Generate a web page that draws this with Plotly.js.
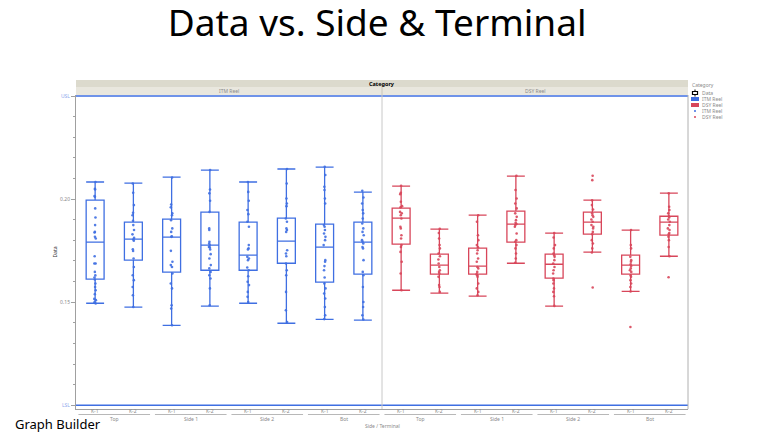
<!DOCTYPE html>
<html><head><meta charset="utf-8">
<script src="https://cdn.plot.ly/plotly-3.0.1.min.js"></script>
<style>html,body{margin:0;padding:0;background:#fff}#chart{width:768px;height:433px}</style>
</head><body><div id="chart"></div>
<script>
// ---------- data ----------
const sides = ['Top','Top','Side 1','Side 1','Side 2','Side 2','Bot','Bot'];
const terminals = ['K-1','K-2','K-1','K-2','K-1','K-2','K-1','K-2'];
const sideGroups = ['Top','Side 1','Side 2','Bot'];
const categories = ['ITM Reel','DSY Reel'];

const itmUpper  = [0.2083,0.2078,0.2107,0.2141,0.2083,0.2146,0.2155,0.2034];
const itmQ3     = [0.1995,0.1888,0.1903,0.1937,0.1888,0.1908,0.1879,0.1888];
const itmMedian = [0.1791,0.1806,0.1816,0.1777,0.1728,0.1796,0.1767,0.1791];
const itmQ1     = [0.1612,0.1704,0.1646,0.1655,0.1655,0.1689,0.1597,0.1636];
const itmLower  = [0.1495,0.1476,0.1388,0.1481,0.1495,0.1398,0.1417,0.1413];

const dsyUpper  = [0.2063,0.1854,0.1922,0.2112,0.1835,0.1995,0.1850,0.2029];
const dsyQ3     = [0.1956,0.1733,0.1762,0.1942,0.1733,0.1937,0.1728,0.1917];
const dsyMedian = [0.1908,0.1680,0.1675,0.1879,0.1684,0.1888,0.1680,0.1888];
const dsyQ1     = [0.1782,0.1636,0.1636,0.1791,0.1617,0.1830,0.1636,0.1825];
const dsyLower  = [0.1558,0.1544,0.1529,0.1689,0.1481,0.1743,0.1553,0.1723];

const itmPoints = [
  [0.2083,0.2050,0.2047,0.2015,0.2011,0.1955,0.1911,0.1874,0.1841,0.1838,0.1817,0.1809,0.1723,0.1688,0.1688,0.1647,0.1630,0.1620,0.1610,0.1591,0.1574,0.1558,0.1539,0.1516,0.1510,0.1500,0.1494],
  [0.2076,0.2031,0.1971,0.1934,0.1922,0.1895,0.1874,0.1850,0.1829,0.1812,0.1804,0.1798,0.1757,0.1748,0.1712,0.1671,0.1631,0.1607,0.1574,0.1534,0.1477],
  [0.2105,0.1974,0.1960,0.1931,0.1922,0.1898,0.1858,0.1841,0.1820,0.1817,0.1749,0.1696,0.1680,0.1671,0.1639,0.1591,0.1567,0.1485,0.1469,0.1388],
  [0.2141,0.2047,0.2028,0.1992,0.1938,0.1858,0.1850,0.1793,0.1785,0.1777,0.1768,0.1766,0.1756,0.1733,0.1712,0.1680,0.1664,0.1647,0.1631,0.1615,0.1567,0.1485],
  [0.2083,0.2035,0.1992,0.1947,0.1927,0.1890,0.1866,0.1777,0.1761,0.1756,0.1720,0.1712,0.1704,0.1668,0.1655,0.1626,0.1599,0.1583,0.1550,0.1526,0.1501],
  [0.2146,0.2076,0.2003,0.1979,0.1966,0.1906,0.1890,0.1858,0.1850,0.1841,0.1752,0.1736,0.1723,0.1688,0.1655,0.1631,0.1550,0.1461,0.1404],
  [0.2157,0.2117,0.2060,0.2044,0.2003,0.1979,0.1874,0.1866,0.1850,0.1833,0.1817,0.1801,0.1777,0.1704,0.1696,0.1675,0.1655,0.1620,0.1591,0.1567,0.1542,0.1518,0.1477,0.1437,0.1418],
  [0.2040,0.2008,0.1979,0.1947,0.1931,0.1906,0.1882,0.1858,0.1841,0.1825,0.1801,0.1793,0.1785,0.1768,0.1761,0.1704,0.1647,0.1631,0.1574,0.1501,0.1477,0.1437,0.1416]
];
const dsyPoints = [
  [0.2065,0.2031,0.2024,0.1987,0.1966,0.1960,0.1938,0.1931,0.1922,0.1906,0.1866,0.1858,0.1825,0.1809,0.1777,0.1768,0.1744,0.1696,0.1639,0.1558],
  [0.1856,0.1836,0.1809,0.1777,0.1761,0.1736,0.1723,0.1707,0.1688,0.1671,0.1655,0.1647,0.1639,0.1623,0.1583,0.1574,0.1550],
  [0.1922,0.1890,0.1825,0.1801,0.1777,0.1766,0.1752,0.1736,0.1712,0.1696,0.1671,0.1664,0.1647,0.1636,0.1631,0.1623,0.1591,0.1567,0.1550,0.1534],
  [0.2113,0.2044,0.2003,0.1979,0.1955,0.1931,0.1914,0.1898,0.1885,0.1879,0.1874,0.1866,0.1833,0.1801,0.1793,0.1777,0.1761,0.1736,0.1712,0.1691],
  [0.1836,0.1814,0.1777,0.1761,0.1736,0.1728,0.1720,0.1704,0.1688,0.1671,0.1655,0.1639,0.1615,0.1607,0.1591,0.1567,0.1550,0.1529,0.1482],
  [0.2113,0.2092,0.1994,0.1971,0.1950,0.1931,0.1922,0.1914,0.1901,0.1890,0.1874,0.1866,0.1858,0.1841,0.1830,0.1801,0.1785,0.1761,0.1741,0.1571],
  [0.1850,0.1777,0.1761,0.1720,0.1704,0.1696,0.1684,0.1675,0.1664,0.1655,0.1647,0.1631,0.1623,0.1607,0.1591,0.1574,0.1552,0.1380],
  [0.2028,0.1963,0.1947,0.1931,0.1917,0.1911,0.1901,0.1890,0.1874,0.1858,0.1850,0.1836,0.1830,0.1817,0.1801,0.1768,0.1723,0.1621]
];
const USL = 0.25, LSL = 0.10;
const yTickVals = [0.10, 0.15, 0.20, 0.25];
const yTickText = ['<span style="color:#8fa8ec">LSL</span>','0.15','0.20','<span style="color:#8fa8ec">USL</span>'];
const yMinorVals = [0.11,0.12,0.13,0.14,0.16,0.17,0.18,0.19,0.21,0.22,0.23,0.24];

// ---------- style ----------
const BLUE = '#3f6fe2', RED = '#d8465a';
const FONT = 'Noto Sans, Open Sans, DejaVu Sans, sans-serif';
const W = 768, H = 433, L = 76, R = 688, T = 95, B = 409;
const px = x => (x - L) / (R - L);
const py = y => (B - y) / (B - T);
const catKeys = sides.map((s, i) => s + ' ' + terminals[i]);
const GREY = '#8a8a8a';

function boxTrace(q1, med, q3, lo, hi, color, xa, ya) {
  return {type:'box', x:catKeys, q1:q1, median:med, q3:q3,
    lowerfence:lo, upperfence:hi, xaxis:xa, yaxis:ya,
    line:{color:color, width:1.3}, fillcolor:'rgba(255,255,255,0)',
    whiskerwidth:1, boxpoints:false, hoverinfo:'skip'};
}
function pointTrace(points, color, xa, ya) {
  const xs = [], ys = [];
  points.forEach((arr, i) => arr.forEach(v => { xs.push(catKeys[i]); ys.push(v); }));
  return {type:'box', x:xs, y:ys, xaxis:xa, yaxis:ya,
    boxpoints:'all', jitter:0.12, pointpos:0,
    marker:{color:color, size:2.6, opacity:0.9},
    line:{width:0, color:'rgba(0,0,0,0)'}, fillcolor:'rgba(0,0,0,0)', hoverinfo:'skip'};
}

const data = [
  boxTrace(itmQ1, itmMedian, itmQ3, itmLower, itmUpper, BLUE, 'x', 'y'),
  pointTrace(itmPoints, BLUE, 'x', 'y'),
  boxTrace(dsyQ1, dsyMedian, dsyQ3, dsyLower, dsyUpper, RED, 'x2', 'y2'),
  pointTrace(dsyPoints, RED, 'x2', 'y2')
];

const xaxisBase = {type:'category', categoryorder:'array', categoryarray:catKeys,
  showticklabels:false, showline:true, linecolor:'#a0a0a0', linewidth:1, ticks:'',
  showgrid:false, zeroline:false, fixedrange:true, range:[-0.5, 7.5]};

const shapes = [];
const annotations = [];
function label(x, y, text, size, color, xanchor) {
  annotations.push({xref:'paper', yref:'paper', x:x, y:y, xanchor:xanchor || 'center', yanchor:'middle',
    text:text, showarrow:false, borderpad:0, font:{size:size, color:color, family:FONT}});
}
// header bands
shapes.push({type:'rect', xref:'paper', yref:'paper', x0:0, x1:1, y0:py(87), y1:py(80), fillcolor:'#dcdacd', line:{width:0}});
shapes.push({type:'rect', xref:'paper', yref:'paper', x0:0, x1:1, y0:py(95), y1:py(87), fillcolor:'#e9e7de', line:{width:0}});
shapes.push({type:'line', xref:'paper', yref:'paper', x0:0.5, x1:0.5, y0:py(95), y1:py(87), line:{color:'#c8c6bc', width:1}});
label(0.5, py(83.5), '<b>Category</b>', 5.5, '#000');
categories.forEach((c, i) => label(0.25 + 0.5 * i, py(91), c, 5, GREY));
// spec lines
[USL, LSL].forEach(v => shapes.push({type:'line', xref:'paper', yref:'y', x0:0, x1:1, y0:v, y1:v, line:{color:BLUE, width:1.6}}));
// facet divider and right border
shapes.push({type:'line', xref:'paper', yref:'paper', x0:0.5, x1:0.5, y0:0, y1:1, line:{color:'#c8c8c8', width:1}});
shapes.push({type:'line', xref:'paper', yref:'paper', x0:1, x1:1, y0:0, y1:1, line:{color:'#b0b0b0', width:1}});
// x labels: terminals, group underline segments, side labels
for (let f = 0; f < 2; f++) {
  terminals.forEach((t, i) => label(f * 0.5 + (i + 0.5) * 0.0625, py(411), t, 5, GREY));
  sideGroups.forEach((g, gi) => {
    const x0 = f * 0.5 + gi * 0.125 + 0.004, x1 = f * 0.5 + (gi + 1) * 0.125 - 0.004;
    shapes.push({type:'line', xref:'paper', yref:'paper', x0:x0, x1:x1, y0:py(414.5), y1:py(414.5), line:{color:'#b8b8b8', width:1}});
    label((x0 + x1) / 2, py(418.5), g, 5, GREY);
  });
}
// axis title & footer
label(0.5, py(426), 'Side / Terminal', 5, GREY);
label(px(14), py(424), 'Graph Builder', 13, '#000', 'left');
// legend
label(px(690.5), py(85), 'Category', 5, GREY, 'left');
const legendItems = [['Data', 93], ['ITM Reel', 99], ['DSY Reel', 105], ['ITM Reel', 111], ['DSY Reel', 117]];
legendItems.forEach(([t, y]) => label(px(701), py(y), t, 5, GREY, 'left'));
shapes.push({type:'line', xref:'paper', yref:'paper', x0:px(695), x1:px(695), y0:py(96.5), y1:py(89.5), line:{color:'#000', width:1}});
shapes.push({type:'rect', xref:'paper', yref:'paper', x0:px(692.5), x1:px(697.5), y0:py(94.5), y1:py(91.5), fillcolor:'#fff', line:{color:'#000', width:1.2}});
shapes.push({type:'rect', xref:'paper', yref:'paper', x0:px(691), x1:px(699), y0:py(101), y1:py(97), fillcolor:BLUE, line:{width:0}});
shapes.push({type:'rect', xref:'paper', yref:'paper', x0:px(691), x1:px(699), y0:py(107), y1:py(103), fillcolor:RED, line:{width:0}});
shapes.push({type:'circle', xref:'paper', yref:'paper', x0:px(694), x1:px(696), y0:py(112), y1:py(110), fillcolor:BLUE, line:{width:0}});
shapes.push({type:'circle', xref:'paper', yref:'paper', x0:px(694), x1:px(696), y0:py(118), y1:py(116), fillcolor:RED, line:{width:0}});

const yRange = [0.0982, 0.2505];
const layout = {
  width:W, height:H, margin:{l:L, r:W - R, t:T, b:H - B, pad:0},
  paper_bgcolor:'#fff', plot_bgcolor:'#fff', showlegend:false,
  boxmode:'overlay', boxgap:0.33,
  font:{family:FONT},
  title:{text:'Data vs. Side & Terminal', font:{size:37, color:'#000', family:FONT},
    x:0.492, xref:'paper', y:1 - 23 / H, yref:'container', xanchor:'center', yanchor:'middle'},
  xaxis:Object.assign({domain:[0, 0.5], anchor:'y'}, xaxisBase),
  xaxis2:Object.assign({domain:[0.5, 1], anchor:'y2'}, xaxisBase),
  yaxis:{range:yRange, tickmode:'array', tickvals:yTickVals, ticktext:yTickText,
    tickfont:{size:5, color:GREY, family:FONT}, ticks:'outside', ticklen:4, tickcolor:'#a0a0a0',
    showline:true, linecolor:'#a0a0a0', linewidth:1, showgrid:false, zeroline:false,
    minor:{tickmode:'array', tickvals:yMinorVals, ticks:'outside', ticklen:2.5, tickcolor:'#a0a0a0', showgrid:false},
    title:{text:'Data', font:{size:5, color:'#333', family:FONT}, standoff:2}, fixedrange:true},
  yaxis2:{anchor:'x2', range:yRange, showticklabels:false, ticks:'', showline:false,
    showgrid:false, zeroline:false, fixedrange:true},
  shapes:shapes, annotations:annotations
};

Plotly.newPlot('chart', data, layout, {staticPlot:true, displayModeBar:false});
</script></body></html>
